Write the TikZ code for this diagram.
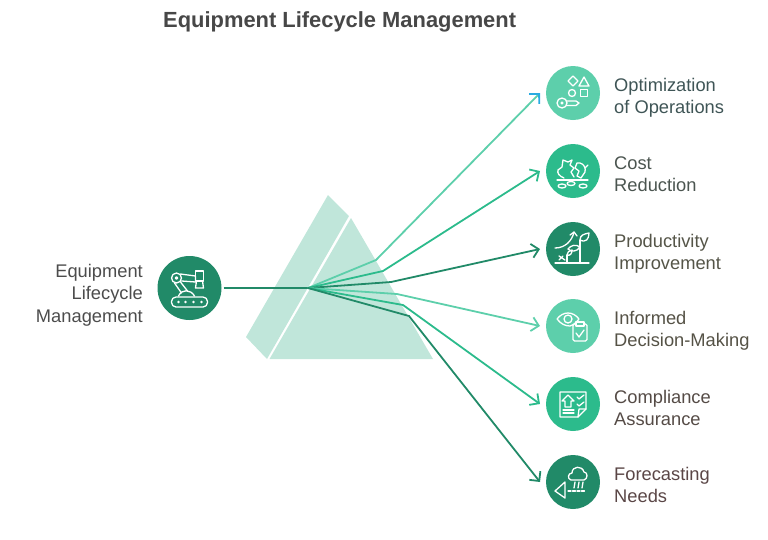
\documentclass[tikz,border=0pt]{standalone}
\usepackage{fontspec}
\setmainfont{Liberation Sans}
\usetikzlibrary{positioning,arrows.meta}
\definecolor{rayone}{RGB}{93,207,171}
\definecolor{raytwo}{RGB}{44,187,140}
\definecolor{raythree}{RGB}{33,138,104}
\definecolor{prismfill}{RGB}{192,230,218}
\definecolor{tipblue}{RGB}{41,171,226}
\tikzset{
  iconbox/.style={circle,minimum size=54pt,inner sep=0pt,outer sep=0pt},
  itemlabel/.style={anchor=west,align=left,inner sep=0pt,font=\fontsize{18.3}{22}\selectfont},
  ray/.style={line width=1.8pt,-{Straight Barb[length=7pt,width=14pt]}},
  glyph/.style={draw=white,line width=1.3pt,fill=none,line join=round,line cap=round},
}
\begin{document}
\begin{tikzpicture}[x=1pt,y=-1pt]
    \useasboundingbox (0,0) rectangle (768,539);
    % Title
    \node[font=\bfseries\fontsize{21.9}{24}\selectfont,text=black!72,anchor=west,inner sep=0pt] (title) at (163,21.5) {Equipment Lifecycle Management};

    % Prism
    \fill[prismfill] (328,195) -- (349,216) -- (267,359) -- (246,337) -- cycle;
    \fill[prismfill] (351,218) -- (433,359) -- (269.5,359) -- cycle;

    % Source
    \node[iconbox,minimum size=64pt,fill=raythree] (source) at (189.5,288) {};
    \node[itemlabel,anchor=east,align=right,text=black!70,font=\fontsize{18.3}{22.7}\selectfont] (sourcetext) at (143,295) {Equipment\\Lifecycle\\Management};

    % Targets
    \node[iconbox,fill=rayone] (optim) at (573,93) {};
    \node[iconbox,fill=raytwo] (cost) at (573,171) {};
    \node[iconbox,fill=raythree] (prod) at (573,249) {};
    \node[iconbox,fill=rayone] (inform) at (573,326) {};
    \node[iconbox,fill=raytwo] (compl) at (573,404) {};
    \node[iconbox,fill=raythree] (fore) at (573,482) {};

    \node[itemlabel,text={rgb,255:red,63;green,85;blue,86}] (optimtext) at (614,98) {Optimization\\of Operations};
    \node[itemlabel,text={rgb,255:red,75;green,85;blue,80}] (costtext) at (614,174) {Cost\\Reduction};
    \node[itemlabel,text={rgb,255:red,85;green,85;blue,72}] (prodtext) at (614,254) {Productivity\\Improvement};
    \node[itemlabel,text={rgb,255:red,85;green,82;blue,70}] (informtext) at (614,331) {Informed\\Decision-Making};
    \node[itemlabel,text={rgb,255:red,85;green,75;blue,70}] (compltext) at (614,408) {Compliance\\Assurance};
    \node[itemlabel,text={rgb,255:red,90;green,70;blue,70}] (foretext) at (614,485) {Forecasting\\Needs};

    % Rays
    \coordinate (hit) at (308,288);
    \coordinate (bendA) at (376,260);
    \coordinate (bendB) at (383,271);
    \coordinate (bendC) at (391,282);
    \coordinate (bendD) at (397,294);
    \coordinate (bendE) at (403,305);
    \coordinate (bendF) at (409,316);
    \draw[line width=1.8pt,raythree,shorten <=2pt] (source) -- (hit);
    \draw[ray,rayone,-{Straight Barb[length=7pt,width=14pt,color=tipblue]}] (hit) -- (bendA) -- ([xshift=-6pt]optim.west);
    \draw[ray,raytwo] (hit) -- (bendB) -- ([xshift=-6pt]cost.west);
    \draw[ray,raythree] (hit) -- (bendC) -- ([xshift=-6pt]prod.west);
    \draw[ray,rayone] (hit) -- (bendD) -- ([xshift=-6pt]inform.west);
    \draw[ray,raytwo] (hit) -- (bendE) -- ([xshift=-6pt]compl.west);
    \draw[ray,raythree] (hit) -- (bendF) -- ([xshift=-6pt]fore.west);

    % Icons
    \begin{scope}[shift={(source)}]
        \draw[glyph,rounded corners=4.5pt] (-18,9) rectangle (18,19);
        \foreach \dotx in {-11,-4,4,12} \fill[white] (\dotx,14) circle (1.3pt);
        \draw[glyph] (-13,-10) circle (5pt);
        \draw[glyph] (-13,-10) circle (1.2pt);
        \draw[glyph] (-9,-14) -- (6,-12) -- (6,-6) -- (-8,-7);
        \draw[glyph] (6,-17) rectangle (14,-7);
        \draw[glyph] (7,-7) -- (13,-7) -- (14,0) -- (6,0) -- cycle;
        \draw[glyph] (-15,-5) -- (-8,5) (-9,-6) -- (-2,3);
        \draw[glyph] (-11,8) .. controls (-8,1) and (1,1) .. (5,8);
    \end{scope}
    \begin{scope}[shift={(optim)}]
        \draw[glyph] (0,-17) -- (5,-12) -- (0,-7) -- (-5,-12) -- cycle;
        \draw[glyph] (11,-16) -- (16,-7) -- (6,-7) -- cycle;
        \draw[glyph] (-1,0) circle (3.5pt);
        \draw[glyph] (7.5,-3.5) rectangle (14.5,3.5);
        \draw[glyph] (-11,10) circle (5pt);
        \draw[glyph] (-11,10) circle (1pt);
        \draw[glyph] (-6.5,8) -- (3,8) -- (6,10) -- (3,12.5) -- (-6.5,12.5);
    \end{scope}
    \begin{scope}[shift={(cost)}]
        \draw[glyph] (-16,9) -- (15,9);
        \draw[glyph] (-11,15) ellipse (4pt and 2pt);
        \draw[glyph] (-2,12.5) ellipse (4pt and 2pt);
        \draw[glyph] (10,15) ellipse (4pt and 2pt);
        \draw[glyph] (-9,7) .. controls (-14,5) and (-16,2) .. (-15,-1) -- (-11,-4) -- (-10,-11) -- (-5,-9) -- (-1,-11) -- (-3,-6) -- (1,-3) -- (-2,1) -- (1,6);
        \draw[glyph] (4,-8) -- (7,-8) .. controls (11,-7) and (13,-3) .. (12,1) -- (8,7) -- (4,5) -- (6,0) -- (2,-3) -- cycle;
        \draw[glyph] (12,-3) -- (15,-6);
    \end{scope}
    \begin{scope}[shift={(prod)}]
        \draw[glyph] (-18,14) -- (16,14);
        \draw[glyph] (-18,-1) .. controls (-8,-1) and (-1,-8) .. (1,-17);
        \draw[glyph] (-3,-14) -- (1,-17) -- (4,-13);
        \draw[glyph] (7,14) -- (7,-9);
        \draw[glyph] (7,-9) .. controls (7,-14) and (11,-15) .. (16,-16) .. controls (16,-10) and (13,-6) .. (7,-9);
        \draw[glyph] (7,-2) .. controls (3,-5) and (-2,-4) .. (-5,0) .. controls (-2,3) and (4,3) .. (7,-2);
        \draw[glyph] (-6,14) -- (-6,6);
        \draw[glyph] (-6,6) .. controls (-6,3) and (-4,2) .. (-1,1) .. controls (-1,5) and (-3,7) .. (-6,6);
        \draw[glyph] (-8,11) -- (-14,7) (-14,11) -- (-10,7);
    \end{scope}
    \begin{scope}[shift={(inform)}]
        \draw[glyph] (-16,-7) .. controls (-10,-15) and (0,-15) .. (6,-7) .. controls (3,-3) and (0,-1) .. (-3,0) .. controls (-8,0) and (-12,-2) .. (-16,-7);
        \draw[glyph] (-5,-7) circle (4pt);
        \draw[glyph,fill=rayone,rounded corners=1.5pt] (0,-2) rectangle (14,15);
        \draw[glyph,fill=rayone] (3,-4) rectangle (11,0);
        \draw[glyph] (3,7) -- (6,11) -- (11,4);
    \end{scope}
    \begin{scope}[shift={(compl)}]
        \draw[glyph] (-13,-12) -- (13,-12) -- (13,5) -- (5,13) -- (-13,13) -- cycle;
        \draw[glyph] (13,5) -- (6,5) -- (5,13);
        \draw[glyph] (-11,-3) -- (-5,-9) -- (1,-3) -- (-2,-3) -- (-2,3) -- (-8,3) -- (-8,-3) -- cycle;
        \draw[glyph] (-10,6) -- (1,6) (-10,9) -- (1,9);
        \draw[glyph] (4,-7) -- (6,-5) -- (11,-9);
        \draw[glyph] (4,0) -- (6,2) -- (11,-2);
    \end{scope}
    \begin{scope}[shift={(fore)}]
        \draw[glyph] (-2,-2) .. controls (-6,-3) and (-5,-9) .. (-1,-9) .. controls (-1,-16) and (9,-17) .. (11,-10) .. controls (15,-10) and (15,-3) .. (11,-2) -- cycle;
        \draw[glyph] (1,6) -- (2,0) (5,6) -- (6,0) (9,6) -- (10,0);
        \draw[glyph,dash pattern=on 3pt off 1.5pt] (-5,9) -- (13,9);
        \draw[glyph] (-18,9) -- (-8,0) -- (-8,16) -- cycle;
    \end{scope}
\end{tikzpicture}
\end{document}
